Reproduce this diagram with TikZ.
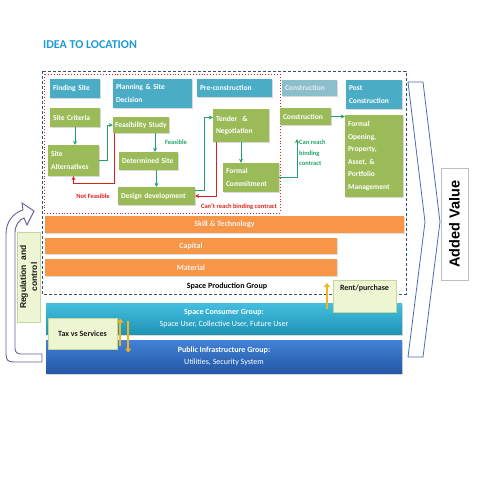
\documentclass[tikz,border=0pt]{standalone}
\usepackage{fontspec}
\setmainfont{Carlito}
\newfontfamily\arialfont{Liberation Sans}
\usetikzlibrary{arrows.meta, shadows}
\usetikzlibrary{positioning}
\definecolor{headblue}{HTML}{4BACC6}
\definecolor{fadeblue}{HTML}{8CBFCC}
\definecolor{stepgreen}{HTML}{9BBB59}
\definecolor{gogreen}{HTML}{23A36A}
\definecolor{nored}{HTML}{E02020}
\definecolor{barorange}{HTML}{F79646}
\definecolor{titleblue}{HTML}{1E9AD6}
\definecolor{frameblue}{HTML}{34507C}
\definecolor{notefill}{HTML}{EEF5D2}
\definecolor{noteline}{HTML}{C3D69B}
\definecolor{swapyellow}{HTML}{F4B41A}
\definecolor{loopviolet}{HTML}{6B5B9E}
\definecolor{chevronblue}{HTML}{4A6DB5}
\definecolor{consumertop}{HTML}{45BFDF}
\definecolor{consumerbot}{HTML}{1E93B5}
\definecolor{publictop}{HTML}{4282D6}
\definecolor{publicbot}{HTML}{2458A6}
\hyphenpenalty=10000
\exhyphenpenalty=10000
\tikzstyle{head_box} = [
    fill=headblue, 
    text=white, 
    font=\fontsize{7.5}{12.5}\selectfont\bfseries, 
    align=left, 
    inner xsep=3pt, % text close to the left edge
    inner ysep=0pt, 
    drop shadow={opacity=0.3, shadow xshift=1pt, shadow yshift=-1pt}
]
\tikzstyle{step_box} = [
    fill=stepgreen, 
    text=white, 
    font=\fontsize{7.5}{12.5}\selectfont\bfseries, 
    align=left, 
    inner xsep=3pt, 
    inner ysep=0pt, 
    drop shadow={opacity=0.3, shadow xshift=1pt, shadow yshift=-1pt}
]
\tikzstyle{res_bar} = [
    fill=barorange, 
    text=white!95!black, 
    font=\fontsize{8}{10}\selectfont\bfseries, 
    inner sep=0pt, 
    drop shadow={opacity=0.25, shadow xshift=1pt, shadow yshift=-1pt}
]
\tikzstyle{group_bar} = [
    text=white, 
    font=\fontsize{8}{12}\selectfont, 
    align=center, 
    inner sep=0pt, 
    minimum width=356pt, 
    drop shadow={opacity=0.3, shadow xshift=1pt, shadow yshift=-1.5pt}
]
\tikzstyle{note_box} = [
    fill=notefill, 
    draw=noteline, 
    text=black!90, 
    font=\fontsize{8}{10}\selectfont\bfseries, 
    align=center, 
    inner sep=0pt, 
    drop shadow={opacity=0.3, shadow xshift=1pt, shadow yshift=-1pt}
]
\tikzstyle{go_arrow} = [draw=gogreen, line width=1pt, -{Stealth[length=4pt, width=4pt]}]
\tikzstyle{no_arrow} = [draw=nored, line width=1pt, -{Stealth[length=4pt, width=4pt]}]
\tikzstyle{swap_arrow} = [draw=swapyellow, line width=1.8pt, -{Triangle[length=4pt, width=6pt]}]
\tikzstyle{go_label} = [text=gogreen, font=\fontsize{6.5}{10.5}\selectfont\bfseries, inner sep=0pt, align=left]
\tikzstyle{no_label} = [text=nored, font=\fontsize{6.5}{10.5}\selectfont\bfseries, inner sep=0pt]
\begin{document}
\begin{tikzpicture}[x=1pt, y=-1pt]
\useasboundingbox (0,0) rectangle (480,480);

% title
\node [anchor=west, inner sep=0pt, text=titleblue, font=\fontsize{12}{14}\selectfont\bfseries] (title) at (43,45) {IDEA TO LOCATION};

% frames of the production group
\draw [frameblue, line width=1pt, dash pattern=on 3pt off 2pt] (42,71) rectangle (406,294);
\draw [nored, line width=0.9pt, dotted] (44,74) rectangle (280,213);

% added value
\draw [chevronblue, line width=0.8pt, fill=white] (408,82) -- (423,82) -- (440,222) -- (423,357) -- (408,357) -- (425,222) -- cycle;
\node [rotate=90, fill=white, draw=black!25, minimum width=112pt, minimum height=27pt, inner sep=0pt,
    font=\arialfont\fontsize{14.5}{16}\selectfont\bfseries,
    drop shadow={opacity=0.25, shadow xshift=1pt, shadow yshift=-1pt}] (value) at (454.5,224) {Added Value};

% regulation loop
\draw [loopviolet, line width=0.9pt, fill=white] (42,354) -- (21,354) .. controls (17,354) and (15,352) .. (15,348)
    -- (15,233) .. controls (15,225) and (19,220) .. (24,218) -- (27,225) -- (34,211) -- (22,203) -- (23,210)
    .. controls (13,213) and (6,222) .. (6,234) -- (6,354) .. controls (6,360) and (8,362) .. (14,362) -- (42,362) -- cycle;
\node [note_box, rotate=90, minimum width=90pt, minimum height=23pt,
    font=\arialfont\fontsize{8.5}{11}\selectfont\bfseries] (regulation) at (28.5,277) {Regulation \ and\\control};

% stage headers
\node [head_box, minimum width=50pt, minimum height=19pt, text width=44pt] (find_head) at (75,88.5) {Finding Site};
\node [head_box, minimum width=79pt, minimum height=29pt, text width=73pt] (plan_head) at (152.5,93.5) {Planning \& Site\\Decision};
\node [head_box, minimum width=75pt, minimum height=18pt, text width=69pt] (pre_head) at (234.5,88) {Pre-construction};
\node [head_box, fill=fadeblue, text=white!92!black, minimum width=55pt, minimum height=16pt, text width=49pt] (con_head) at (309.5,88) {Construction};
\node [head_box, minimum width=56pt, minimum height=29pt, text width=50pt] (post_head) at (374,94.5) {Post\\Construction};

% steps
\node [step_box, minimum width=50pt, minimum height=19pt, text width=44pt] (crit) at (75,117.5) {Site Criteria};
\node [step_box, minimum width=51pt, minimum height=31pt, text width=45pt] (alt) at (73.5,160.5) {Site\\Alternatives};
\node [step_box, inner xsep=2pt, minimum width=56pt, minimum height=16pt, text width=52pt] (feas) at (141,125) {Feasibility Study};
\node [step_box, minimum width=59pt, minimum height=18pt, text width=53pt] (det) at (148.5,161) {Determined Site};
\node [step_box, minimum width=77pt, minimum height=18pt, text width=71pt] (design) at (156.5,196) {Design development};
\node [step_box, minimum width=56pt, minimum height=33pt, text width=50pt] (tender) at (241,125.5) {Tender \ \&\\Negotiation};
\node [step_box, minimum width=56pt, minimum height=29pt, text width=50pt] (formal) at (251,177.5) {Formal\\Commitment};
\node [step_box, minimum width=51pt, minimum height=17pt, text width=45pt] (constr) at (305.5,116.5) {Construction};
\node [step_box, minimum width=58pt, minimum height=82pt, text width=52pt] (open) at (374,156) {Formal\\Opening,\\Property,\\Asset, \&\\Portfolio\\Management};

% flow between steps
\draw [go_arrow] (crit.south) -- (crit.south |- alt.north);
\draw [go_arrow] (alt.east) -- ++(8,0) |- (feas.west);
\draw [no_arrow] ([xshift=2pt]feas.south west) -- ++(0,50) -| (alt.south);
\draw [go_arrow] ([xshift=6.5pt]det.north |- feas.south) -- ([xshift=6.5pt]det.north);
\draw [go_arrow] (det.south -| design.north) -- (design.north);
\draw [go_arrow] ([yshift=6pt]design.east) -- ++(9,0) |- ([yshift=8pt]tender.west);
\draw [no_arrow] ([xshift=4pt]tender.south west) |- (design.east);
\draw [go_arrow] (tender.south) -- (tender.south |- formal.north);
\draw [go_arrow] (formal.east) -| ([xshift=-8.5pt, yshift=-14pt]constr.south);
\draw [go_arrow] (constr.east) -- (constr.east -| open.west);

\node [go_label] (feasible) at (176,142) {Feasible};
\node [no_label] (not_feasible) at (93,196) {Not Feasible};
\node [no_label] (no_contract) at (239,207) {Can't reach binding contract};
\node [go_label, anchor=west] (contract) at (299,153) {Can reach\\binding\\contract};

% resources
\node [res_bar, minimum width=359pt, minimum height=17pt] (skill) at (224.5,224.5) {Skill \& Technology};
\node [res_bar, minimum width=292pt, minimum height=16pt] (capital) at (191,246) {Capital};
\node [res_bar, minimum width=292pt, minimum height=17pt] (material) at (191,267.5) {Material};
\node [inner sep=0pt, font=\fontsize{8}{10}\selectfont\bfseries] (production) at (227,286) {Space Production Group};

% consumer and public groups
\node [group_bar, minimum height=31pt, top color=consumertop, bottom color=consumerbot] (consumer) at (224,318.5)
    {\textbf{Space Consumer Group:}\\Space User, Collective User, Future User};
\node [group_bar, minimum height=33pt, top color=publictop, bottom color=publicbot] (public) at (224,356.5)
    {\textbf{Public Infrastructure Group:}\\Utilities, Security System};

\node [note_box, minimum width=63pt, minimum height=32pt] (rent) at (364.5,296) {Rent/purchase\\[6pt]};
\node [note_box, minimum width=69pt, minimum height=31pt] (tax) at (82.5,333.5) {Tax vs Services};

\coordinate (rent_tip) at (327,283);
\draw [swap_arrow] ([xshift=103pt, yshift=-6pt]consumer.north) -- (rent_tip);
\draw [swap_arrow] ([xshift=3pt, yshift=-12pt]tax.east) -- ([xshift=3pt, yshift=15pt]tax.east);
\draw [swap_arrow] ([xshift=11pt, yshift=13pt]tax.east) -- ([xshift=11pt, yshift=-19pt]tax.east);
\end{tikzpicture}
\end{document}
